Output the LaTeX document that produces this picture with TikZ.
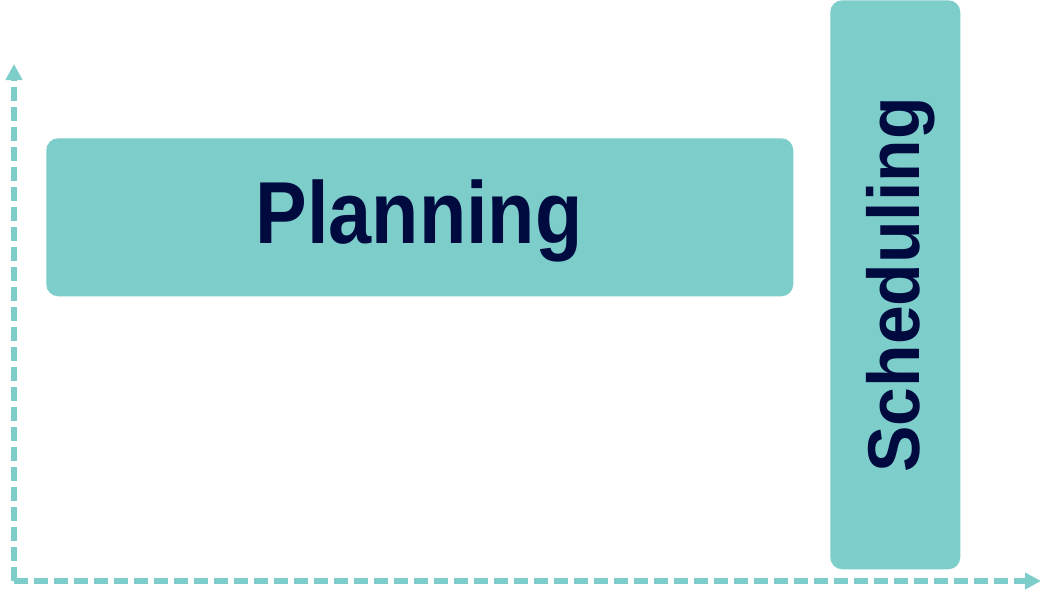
\documentclass[tikz,border=0pt]{standalone}
\usepackage{fontspec}
\setmainfont{Liberation Sans}
\usetikzlibrary{arrows.meta}
\definecolor{teal1}{HTML}{7DCDCB}
\definecolor{navy1}{HTML}{000A3E}
\tikzset{
  box/.style={fill=teal1, draw=none, rounded corners=9pt, inner sep=0pt, text=navy1, font=\bfseries},
  axis/.style={draw=teal1, line width=4pt, dash pattern=on 10.5pt off 4.5pt, -{Triangle[length=12pt,width=12pt]}}
}
\begin{document}
\begin{tikzpicture}[x=0.75pt,y=-0.75pt]
\useasboundingbox (0,0) rectangle (1056,596);
\node[box, minimum width=747*0.75pt, minimum height=158*0.75pt, anchor=north west] (plan) at (46,138) {};
\node[text=navy1, font=\bfseries, inner sep=0pt] (plantext) at (419,221) {\scalebox{0.88}[1]{\fontsize{66}{70}\selectfont Planning}};
\node[box, minimum width=130*0.75pt, minimum height=569*0.75pt, anchor=north west] (sched) at (830,0) {};
\node[text=navy1, font=\bfseries, rotate=90, inner sep=0pt] (schedtext) at (901,285) {\scalebox{0.95}[1]{\fontsize{55}{60}\selectfont Scheduling}};
\coordinate (origin) at (14,581);
\coordinate (ytip) at (14,64);
\coordinate (xtip) at (1041,581);
\draw[axis] (origin) -- (ytip);
\draw[axis] (origin) -- (xtip);
\end{tikzpicture}
\end{document}
